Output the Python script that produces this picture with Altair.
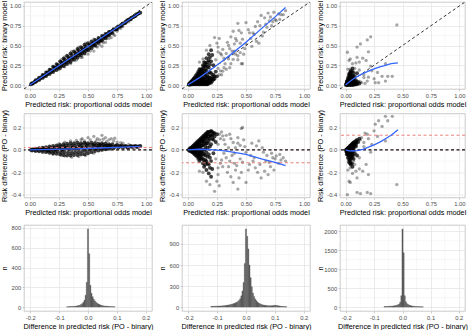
import altair as alt
import pandas as pd

FONT = "Liberation Sans"

# ---------------- axis ticks / domains ----------------
PO_TICKS = [0.0, 0.25, 0.5, 0.75, 1.0]
PO_MINOR = [0.125, 0.375, 0.625, 0.875]
PO_DOMAIN = [-0.05, 1.05]
DIFF_TICKS = [-0.4, -0.2, 0.0, 0.2]
DIFF_MINOR = [-0.3, -0.1, 0.1, 0.3]
DIFF_DOMAIN = [-0.425, 0.325]
HIST_TICKS = [-0.2, -0.1, 0.0, 0.1, 0.2]
HIST_MINOR = [-0.15, -0.05, 0.05, 0.15]
HIST_DOMAIN = [-0.222, 0.222]
COUNT_TICKS = [[0, 200, 400, 600, 800], [0, 300, 600, 900], [0, 500, 1000, 1500, 2000]]
COUNT_MINOR = [[100, 300, 500, 700], [150, 450, 750, 1050], [250, 750, 1250, 1750]]
COUNT_DOMAIN = [[-40, 830], [-56, 1171], [-103, 2165]]
RED_LINE = [0.022, -0.115, 0.131]
ZERO_LINE = [0.0]
BIN_WIDTH = 0.004

# ---------------- scatter data: (PO risk, PO - binary) ----------------
C1_CORE = [(0.01,0.00),(0.02,0.005),(0.02,-0.005),(0.04,0.00),(0.05,0.01),(0.05,-0.01),(0.07,0.00),
           (0.08,0.015),(0.08,-0.012),(0.10,0.00),(0.11,0.02),(0.11,-0.018),(0.13,0.005),(0.14,0.025),
           (0.14,-0.02),(0.16,0.00),(0.17,0.03),(0.17,-0.025),(0.19,0.01),(0.20,0.035),(0.20,-0.03),
           (0.22,0.00),(0.23,0.04),(0.23,-0.035),(0.25,0.015),(0.26,0.045),(0.26,-0.04),(0.28,0.00),
           (0.29,0.05),(0.29,-0.045),(0.31,0.02),(0.32,0.055),(0.32,-0.05),(0.34,0.005),(0.35,0.06),
           (0.35,-0.05),(0.37,0.025),(0.38,0.06),(0.38,-0.045),(0.40,0.01),(0.41,0.065),(0.41,-0.045),
           (0.43,0.03),(0.44,0.06),(0.44,-0.04),(0.46,0.015),(0.47,0.065),(0.47,-0.04),(0.49,0.035),
           (0.50,0.06),(0.50,-0.03),(0.52,0.02),(0.53,0.065),(0.53,-0.02),(0.55,0.04),(0.56,0.06),
           (0.56,-0.01),(0.58,0.025),(0.59,0.055),(0.59,-0.005),(0.61,0.04),(0.62,0.06),(0.62,0.00),
           (0.64,0.03),(0.65,0.055),(0.65,0.005),(0.67,0.035),(0.68,0.05),(0.68,0.01),(0.70,0.03),
           (0.71,0.05),(0.72,0.015),(0.74,0.035),(0.75,0.045),(0.76,0.02),(0.78,0.03),(0.79,0.04),
           (0.80,0.02),(0.82,0.035),(0.83,0.03),(0.84,0.02),(0.86,0.03),(0.87,0.035),(0.88,0.025),
           (0.90,0.03),(0.91,0.035),(0.92,0.025),(0.94,0.03),(0.95,0.035),
           (0.03,0.005),(0.06,0.005),(0.09,0.008),(0.12,0.0),(0.12,0.012),(0.15,0.012),(0.15,-0.008),
           (0.18,0.018),(0.18,-0.012),(0.21,0.02),(0.21,-0.012),(0.24,0.025),(0.24,-0.015),(0.27,0.03),
           (0.27,-0.02),(0.27,0.01),(0.30,0.035),(0.30,-0.02),(0.30,0.01),(0.33,0.035),(0.33,-0.025),
           (0.33,0.015),(0.36,0.04),(0.36,-0.025),(0.36,0.01),(0.39,0.04),(0.39,-0.02),(0.39,0.015),
           (0.42,0.045),(0.42,-0.02),(0.42,0.015),(0.45,0.045),(0.45,-0.015),(0.45,0.02),(0.48,0.05),
           (0.48,-0.01),(0.48,0.02),(0.51,0.045),(0.51,0.0),(0.54,0.045),(0.54,0.01),(0.57,0.04),
           (0.57,0.015),(0.60,0.045),(0.60,0.02),(0.63,0.045),(0.63,0.015),(0.66,0.04),(0.66,0.02),
           (0.69,0.04),(0.69,0.02),(0.73,0.03),(0.77,0.035),(0.81,0.03),(0.85,0.025),(0.89,0.03),
           (0.93,0.03)]
C1_PTS = [(0.45,0.10),(0.50,0.11),(0.55,0.12),(0.58,0.10),(0.62,0.13),(0.65,0.11),(0.68,0.09),
          (0.70,0.10),(0.72,0.08),(0.75,0.07),(0.60,0.09),(0.52,0.09),(0.40,0.085),(0.35,0.08),
          (0.30,0.07),(0.42,-0.06),(0.36,-0.065),(0.30,-0.055),(0.48,-0.05),(0.55,-0.03),(0.80,0.06),
          (0.85,0.05),(0.66,0.075),(0.57,0.08),(0.47,0.08),(0.25,0.055),(0.20,-0.04),(0.27,-0.05),
          (0.78,0.065),(0.73,0.105),(0.63,0.095),(0.44,0.09)]
C2_CORE = [(0.01,0.005),(0.01,-0.005),(0.02,0.01),(0.02,-0.01),(0.02,0.0),(0.03,0.02),(0.03,-0.015),
           (0.03,0.0),(0.04,0.03),(0.04,-0.02),(0.04,0.01),(0.05,0.04),(0.05,-0.03),(0.05,0.0),
           (0.05,0.02),(0.06,0.05),(0.06,-0.04),(0.06,-0.01),(0.06,0.03),(0.07,0.06),(0.07,-0.05),
           (0.07,0.01),(0.07,-0.02),(0.08,0.07),(0.08,0.04),(0.08,-0.06),(0.08,0.0),(0.09,0.08),
           (0.09,-0.03),(0.09,0.03),(0.09,-0.08),(0.10,0.09),(0.10,0.05),(0.10,-0.01),(0.10,-0.10),
           (0.11,0.10),(0.11,0.02),(0.11,-0.05),(0.12,0.11),(0.12,0.07),(0.12,-0.08),(0.12,-0.02),
           (0.13,0.12),(0.13,0.04),(0.13,-0.12),(0.14,0.13),(0.14,0.09),(0.14,-0.04),(0.14,-0.15),
           (0.15,0.14),(0.15,0.01),(0.15,-0.09),(0.16,0.15),(0.16,0.11),(0.16,-0.18),(0.17,0.16),
           (0.17,0.06),(0.17,-0.06),(0.18,0.16),(0.18,-0.13),(0.18,-0.21),(0.19,0.13),(0.19,0.03),
           (0.20,0.17),(0.20,-0.10),(0.20,-0.24),(0.21,0.10),(0.22,0.15),(0.22,-0.03),(0.23,0.12),
           (0.24,0.07),(0.25,0.14),(0.21,-0.17),
           (0.03,0.01),(0.04,-0.01),(0.05,0.01),(0.05,-0.015),(0.06,0.0),(0.06,0.015),(0.07,0.03),
           (0.07,0.045),(0.08,0.02),(0.08,-0.03),(0.08,0.055),(0.09,0.0),(0.09,0.06),(0.09,-0.05),
           (0.10,0.02),(0.10,0.07),(0.10,-0.04),(0.10,-0.07),(0.11,0.04),(0.11,0.08),(0.11,-0.02),
           (0.11,-0.08),(0.12,0.0),(0.12,0.09),(0.12,0.04),(0.12,-0.05),(0.13,0.10),(0.13,0.07),
           (0.13,-0.03),(0.13,-0.08),(0.14,0.11),(0.14,0.0),(0.14,0.06),(0.14,-0.10),(0.15,0.12),
           (0.15,0.08),(0.15,0.04),(0.15,-0.05),(0.15,-0.13),(0.16,0.13),(0.16,0.06),(0.16,-0.02),
           (0.16,-0.10),(0.17,0.14),(0.17,0.10),(0.17,0.02),(0.17,-0.12),(0.18,0.12),(0.18,0.08),
           (0.18,-0.04),(0.19,0.16),(0.19,0.10),(0.19,-0.07),(0.19,-0.16),(0.20,0.13),(0.20,0.05),
           (0.21,0.16),(0.21,0.13),(0.22,0.09),(0.23,0.15),(0.02,0.015),(0.03,-0.005),(0.04,0.02),
           (0.06,-0.025)]
C2_PTS = [(0.47,0.20),(0.46,0.19),(0.30,0.125),(0.36,0.14),(0.43,0.11),(0.39,0.066),(0.59,0.036),
          (0.64,0.02),(0.79,-0.04),(0.76,-0.054),(0.82,-0.07),(0.73,-0.07),(0.67,-0.10),(0.62,-0.13),
          (0.66,-0.19),(0.69,-0.22),(0.44,-0.25),(0.50,-0.29),(0.39,-0.29),(0.23,-0.37),(0.27,-0.32),
          (0.19,-0.31),(0.16,-0.28),(0.13,-0.20),(0.10,-0.19),(0.53,-0.13),(0.56,-0.10),(0.47,-0.11),
          (0.42,-0.14),(0.36,-0.10),(0.33,-0.07),(0.50,-0.02),(0.54,-0.05),(0.28,0.10),(0.32,0.05),
          (0.35,0.02),(0.40,-0.03),(0.45,0.04),(0.30,-0.15),(0.34,-0.20),(0.26,-0.22),(0.28,-0.12),
          (0.25,-0.28),(0.37,-0.24),(0.58,-0.16),(0.70,-0.11),(0.75,-0.08),(0.61,0.08),(0.55,0.06),
          (0.48,0.09),(0.26,0.05),(0.31,-0.03),(0.41,0.02),(0.24,-0.08),(0.29,0.16),(0.43,-0.35),
          (0.60,-0.20),(0.63,-0.25),(0.71,-0.15),(0.74,-0.18),(0.78,-0.12),(0.80,-0.09),(0.68,-0.05),
          (0.57,-0.07),(0.52,-0.18),(0.46,-0.20),(0.41,-0.18),(0.38,-0.05),(0.45,-0.08),(0.49,0.03),
          (0.43,0.06),(0.37,0.10),(0.33,0.13),(0.31,0.09),(0.27,0.14),(0.29,-0.09),(0.26,-0.16),
          (0.35,-0.15),(0.40,-0.12),(0.65,-0.02),(0.72,-0.03),(0.84,-0.10)]
C3_CORE = [(0.005,0.0),(0.005,-0.01),(0.01,0.005),(0.01,-0.02),(0.01,-0.005),(0.015,0.01),
           (0.015,-0.03),(0.015,0.0),(0.02,0.015),(0.02,-0.04),(0.02,-0.01),(0.025,0.02),(0.025,-0.05),
           (0.025,0.0),(0.03,0.025),(0.03,-0.06),(0.03,-0.02),(0.035,0.03),(0.035,-0.08),(0.035,0.0),
           (0.04,0.035),(0.04,-0.04),(0.04,-0.1),(0.045,0.04),(0.045,0.01),(0.05,0.045),(0.05,-0.06),
           (0.05,-0.02),(0.055,0.05),(0.055,-0.12),(0.06,0.055),(0.06,0.02),(0.06,-0.04),(0.065,0.06),
           (0.07,0.06),(0.07,-0.08),(0.07,0.0),(0.075,0.07),(0.08,0.065),(0.08,-0.03),(0.09,0.08),
           (0.09,0.03),(0.10,0.09),(0.10,-0.05),(0.11,0.07),(0.12,0.10),(0.02,-0.07),(0.03,-0.09),
           (0.045,-0.13),(0.06,-0.15),(0.01,-0.04),
           (0.005,0.003),(0.01,-0.01),(0.015,-0.015),(0.02,0.005),(0.02,-0.025),(0.025,-0.01),
           (0.025,-0.035),(0.03,0.01),(0.03,-0.04),(0.035,0.015),(0.035,-0.02),(0.035,-0.05),
           (0.04,0.02),(0.04,0.0),(0.04,-0.06),(0.045,0.025),(0.045,-0.03),(0.045,-0.08),(0.05,0.03),
           (0.05,0.0),(0.05,-0.04),(0.055,0.035),(0.055,0.01),(0.055,-0.07),(0.06,0.04),(0.06,-0.02),
           (0.065,0.03),(0.065,-0.05),(0.07,0.045),(0.07,0.02),(0.075,0.05),(0.08,0.04),(0.085,0.06),
           (0.09,0.05),(0.095,0.07),(0.03,-0.11),(0.04,-0.12)]
C3_PTS = [(0.35,0.30),(0.41,0.30),(0.29,0.26),(0.37,0.26),(0.26,0.23),(0.32,0.21),(0.19,0.14),
          (0.20,0.10),(0.16,0.066),(0.23,0.05),(0.35,0.08),(0.45,-0.31),(0.015,-0.40),(0.10,-0.38),
          (0.13,-0.39),(0.19,-0.38),(0.22,-0.39),(0.03,-0.28),(0.04,-0.29),(0.09,-0.19),(0.12,-0.17),
          (0.15,-0.19),(0.18,-0.13),(0.20,-0.22),(0.07,-0.10),(0.04,-0.16),(0.22,-0.02),(0.14,0.11),
          (0.17,0.15),(0.13,0.09),(0.12,-0.07),(0.25,0.17),(0.28,0.12),(0.16,0.03),(0.06,-0.21),
          (0.02,-0.18),(0.08,-0.13),(0.10,-0.25)]

# smooth (loess) curves: PO risk, PO - binary
S1_PO = [0.0, 0.2, 0.4, 0.6, 0.8, 0.95]
S1_DIFF = [0.0, 0.004, 0.010, 0.017, 0.025, 0.032]
S2_PO = [0.0, 0.1, 0.2, 0.3, 0.36, 0.5, 0.64, 0.75, 0.84]
S2_DIFF = [0.0, 0.006, 0.003, -0.006, -0.015, -0.04, -0.083, -0.112, -0.14]
S3_PO = [0.0, 0.03, 0.06, 0.1, 0.15, 0.2, 0.25, 0.3, 0.35, 0.4, 0.46]
S3_DIFF = [0.0, -0.008, -0.01, -0.006, 0.005, 0.025, 0.045, 0.07, 0.1, 0.13, 0.18]

# ---------------- histograms: centre of first bin, then counts of consecutive bins ----------------
H1_FIRST = -0.072
H1_N = [3,3,4,5,5,6,7,8,10,12,15,19,25,34,48,70,120,250,790,540,220,140,105,80,62,48,38,31,25,20,
        16,13,11,9,8,7,6,5,4,4,3,3]
H2_FIRST = -0.120
H2_N = [10,10,11,11,12,13,14,15,16,17,18,20,22,24,27,30,33,37,42,47,53,60,68,78,95,120,160,230,350,
        620,1115,1010,830,600,420,290,200,150,115,90,72,58,48,40,34,30,27,24,22,20,19,18,19,20,23,
        25,24,22,18,15,12,10,8,7,6,5]
H3_FIRST = -0.064
H3_N = [12,14,16,18,20,22,24,26,30,34,40,48,60,80,130,300,2060,1430,300,140,90,66,50,40,32,26,21,
        18,16,14,12,10,9,8,7]

CORES = [C1_CORE, C2_CORE, C3_CORE]
PTS = [C1_PTS, C2_PTS, C3_PTS]
SMOOTH = [(S1_PO, S1_DIFF), (S2_PO, S2_DIFF), (S3_PO, S3_DIFF)]
HISTS = [(H1_FIRST, H1_N), (H2_FIRST, H2_N), (H3_FIRST, H3_N)]

# ---------------- style ----------------
WIDTHS = [128, 128, 125]
HEIGHTS = [87, 84, 86]
MAJOR = "#E3E3E3"
MINOR = "#EFEFEF"
PT_COLOR = "#000000"
BLUE = "#3366FF"
RED = "#E8746C"
BAR = "#595959"

X_TITLE = "Predicted risk: proportional odds model"
NEG_FMT1 = "datum.value < 0 ? '-' + format(-datum.value, '.1f') : format(datum.value, '.1f')"


def make_axis(values, title, orient, fmt=None, expr=None):
    kw = dict(values=values, title=title, grid=True, gridColor=MAJOR, gridWidth=0.7,
              tickSize=1.8, tickColor="#B3B3B3", tickWidth=0.7, domain=False,
              labelFontSize=5.8, labelColor="#4D4D4D", labelPadding=1.5, labelFont=FONT,
              titleFontSize=7.3, titleFontWeight="normal", titleColor="#000000",
              titleFont=FONT, labelFlush=False)
    if orient == "y":
        kw.update(minExtent=14, maxExtent=14, titlePadding=1.5)
    else:
        kw.update(minExtent=8.5, maxExtent=8.5, titlePadding=2.5)
    if fmt:
        kw["format"] = fmt
    if expr:
        kw["labelExpr"] = expr
    return alt.Axis(**kw)


def minor_layers(xminor, yminor, xenc, yenc):
    vx = alt.Chart(pd.DataFrame({"gx": xminor})).mark_rule(color=MINOR, strokeWidth=0.5).encode(
        x=xenc("gx"))
    vy = alt.Chart(pd.DataFrame({"gy": yminor})).mark_rule(color=MINOR, strokeWidth=0.5).encode(
        y=yenc("gy"))
    return [vx, vy]


def scatter_panel(col, row):
    core = pd.DataFrame(CORES[col], columns=["po", "diff"])
    pts = pd.DataFrame(PTS[col], columns=["po", "diff"])
    sm = pd.DataFrame({"po": SMOOTH[col][0], "diff": SMOOTH[col][1]})
    xs = alt.Scale(domain=PO_DOMAIN, nice=False, zero=False)
    xax = make_axis(PO_TICKS, X_TITLE, "x", fmt=".2f")
    if row == 0:
        ys = alt.Scale(domain=PO_DOMAIN, nice=False, zero=False)
        yax = make_axis(PO_TICKS, "Predicted risk: binary model", "y", fmt=".2f")
        yminor = PO_MINOR
    else:
        ys = alt.Scale(domain=DIFF_DOMAIN, nice=False, zero=False)
        yax = make_axis(DIFF_TICKS, "Risk difference (PO - binary)", "y", expr=NEG_FMT1)
        yminor = DIFF_MINOR

    def xenc(f):
        return alt.X(f"{f}:Q", scale=xs, axis=xax)

    def yenc(f):
        return alt.Y(f"{f}:Q", scale=ys, axis=yax)

    yfield = "binary" if row == 0 else "diff"
    layers = minor_layers(PO_MINOR, yminor, xenc, yenc)
    layers.append(alt.Chart(core).transform_calculate(binary="datum.po - datum.diff")
                  .mark_circle(color=PT_COLOR, opacity=0.75, size=15, clip=True)
                  .encode(x=xenc("po"), y=yenc(yfield)))
    layers.append(alt.Chart(pts).transform_calculate(binary="datum.po - datum.diff")
                  .mark_circle(color=PT_COLOR, opacity=0.35, size=11, clip=True)
                  .encode(x=xenc("po"), y=yenc(yfield)))
    if row == 0:
        diag = pd.DataFrame({"a": PO_DOMAIN})
        layers.append(alt.Chart(diag).mark_line(color="black", strokeWidth=0.8,
                                                strokeDash=[3, 2.5], clip=True)
                      .encode(x=xenc("a"), y=yenc("a")))
    else:
        layers.append(alt.Chart(pd.DataFrame({"r": [RED_LINE[col]]}))
                      .mark_rule(color=RED, strokeWidth=0.9, strokeDash=[3, 2.5])
                      .encode(y=yenc("r")))
        layers.append(alt.Chart(pd.DataFrame({"z": ZERO_LINE}))
                      .mark_rule(color="#1a0a0a", strokeWidth=1.2, strokeDash=[3, 2.5])
                      .encode(y=yenc("z")))
    layers.append(alt.Chart(sm).transform_calculate(binary="datum.po - datum.diff")
                  .mark_line(color=BLUE, strokeWidth=1.3, clip=True)
                  .encode(x=xenc("po"), y=yenc(yfield)))
    return alt.layer(*layers).properties(width=WIDTHS[col], height=HEIGHTS[row])


def hist_panel(col):
    first, counts = HISTS[col]
    df = pd.DataFrame({"i": list(range(len(counts))), "n": counts})
    xs = alt.Scale(domain=HIST_DOMAIN, nice=False, zero=False)
    ys = alt.Scale(domain=COUNT_DOMAIN[col], nice=False, zero=False)
    xax = make_axis(HIST_TICKS, "Difference in predicted risk (PO - binary)", "x", expr=NEG_FMT1)
    yax = make_axis(COUNT_TICKS[col], "n", "y", fmt="d")

    def xenc(f):
        return alt.X(f"{f}:Q", scale=xs, axis=xax)

    def yenc(f):
        return alt.Y(f"{f}:Q", scale=ys, axis=yax)

    layers = minor_layers(HIST_MINOR, COUNT_MINOR[col], xenc, yenc)
    layers.append(alt.Chart(df).transform_calculate(
        x0=f"{first} + datum.i * {BIN_WIDTH} - {BIN_WIDTH / 2}",
        x1=f"{first} + datum.i * {BIN_WIDTH} + {BIN_WIDTH / 2}", base="0")
        .mark_rect(color=BAR, stroke=BAR, strokeWidth=0.35, clip=True)
        .encode(x=xenc("x0"), x2="x1:Q", y=yenc("n"), y2="base:Q"))
    return alt.layer(*layers).properties(width=WIDTHS[col], height=HEIGHTS[2])


row1 = alt.hconcat(*[scatter_panel(c, 0) for c in range(3)], spacing=30, bounds="flush")
row2 = alt.hconcat(*[scatter_panel(c, 1) for c in range(3)], spacing=30, bounds="flush")
row3 = alt.hconcat(*[hist_panel(c) for c in range(3)], spacing=30, bounds="flush")

top = alt.vconcat(row1, row2, spacing=0.5)
chart = alt.vconcat(top, row3, spacing=7).properties(
    padding={"left": 0, "top": 0, "right": 0, "bottom": 0},
    background="white",
).configure_view(stroke="#B3B3B3", strokeWidth=0.7)

chart.save("out.html", embed_options={"renderer": "svg", "actions": False})
